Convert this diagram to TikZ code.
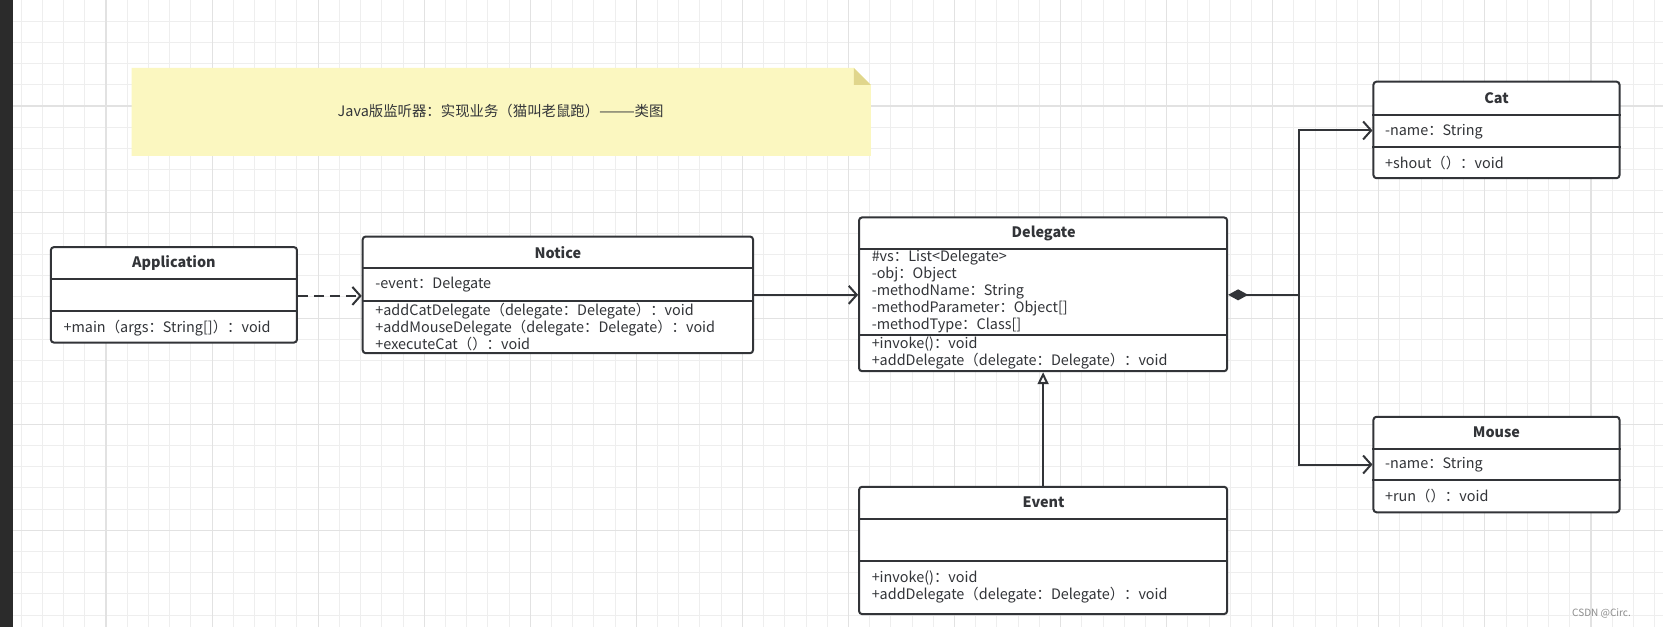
\documentclass[tikz,border=0pt]{standalone}
\usepackage{fontspec}
\setmainfont{Noto Sans CJK SC}
\usetikzlibrary{arrows.meta,fit}
\definecolor{xline}{RGB}{50,52,56}
\definecolor{xnote}{RGB}{251,247,192}
\definecolor{xfold}{RGB}{224,214,140}
\definecolor{xgrid}{RGB}{238,238,238}
\definecolor{xgridm}{RGB}{226,226,226}
\begin{document}
\begin{tikzpicture}[x=0.5303pt,y=-0.5303pt,line width=1pt,
  font=\fontsize{7.2}{8.5}\selectfont\color{xline}]
\tikzset{cls/.style={draw=xline,fill=white,rounded corners=1.5pt,inner sep=0pt}}
\tikzset{ttl/.style={font=\fontsize{7.2}{8.5}\selectfont\bfseries,text=xline}}
\tikzset{mem/.style={anchor=west,align=left,inner sep=0pt,text=xline}}
\tikzset{open/.style={-{Straight Barb[length=4pt,width=9pt]}}}
\useasboundingbox (0,0) rectangle (1568,591);
% grid background
\fill[white] (0,0) rectangle (1568,591);
\foreach \gx in {20,40,...,1560} \draw[xgrid,line width=0.5pt] (\gx,0) -- (\gx,591);
\foreach \gy in {20,40,...,580} \draw[xgrid,line width=0.5pt] (0,\gy) -- (1568,\gy);
\foreach \gx in {100,200,...,1500} \draw[xgridm,line width=0.6pt] (\gx,0) -- (\gx,591);
\foreach \gy in {100,200,...,500} \draw[xgridm,line width=0.6pt] (0,\gy) -- (1568,\gy);
\fill[black!83] (0,0) rectangle (12,591);
% note
\fill[xnote] (124,64) -- (805,64) -- (821,80) -- (821,147) -- (124,147) -- cycle;
\fill[xfold] (805,64) -- (805,80) -- (821,80) -- cycle;
\node (note) at (472,105) {Java版监听器：实现业务（猫叫老鼠跑）———类图};
% Application
\node[cls,fit={(48,233) (280,323)}] (app) {};
\node[ttl] at (164,248) {Application};
\draw[xline] (app.west |- 0,263) -- (app.east |- 0,263);
\draw[xline] (app.west |- 0,293) -- (app.east |- 0,293);
\node[mem] at (59,309) {+main（args：String[]）：void};
% Notice
\node[cls,fit={(342,223) (710,333)}] (notice) {};
\node[ttl] at (526,238) {Notice};
\draw[xline] (notice.west |- 0,253) -- (notice.east |- 0,253);
\draw[xline] (notice.west |- 0,284) -- (notice.east |- 0,284);
\node[mem] at (353,268) {-event：Delegate};
\node[mem] at (353,308) {+addCatDelegate（delegate：Delegate）：void\\+addMouseDelegate（delegate：Delegate）：void\\+executeCat（）：void};
% Delegate
\node[cls,fit={(810,205) (1157,350)}] (dlg) {};
\node[ttl] at (984,220) {Delegate};
\draw[xline] (dlg.west |- 0,235) -- (dlg.east |- 0,235);
\draw[xline] (dlg.west |- 0,316) -- (dlg.east |- 0,316);
\node[mem] at (821,275) {\#vs：List<Delegate>\\-obj：Object\\-methodName：String\\-methodParameter：Object[]\\-methodType：Class[]};
\node[mem] at (821,333) {+invoke()：void\\+addDelegate（delegate：Delegate）：void};
% Event
\node[cls,fit={(810,459) (1157,579)}] (event) {};
\node[ttl] at (984,474) {Event};
\draw[xline] (event.west |- 0,489) -- (event.east |- 0,489);
\draw[xline] (event.west |- 0,529) -- (event.east |- 0,529);
\node[mem] at (821,553) {+invoke()：void\\+addDelegate（delegate：Delegate）：void};
% Cat
\node[cls,fit={(1295,77) (1527,168)}] (cat) {};
\node[ttl] at (1411,93) {Cat};
\draw[xline] (cat.west |- 0,108) -- (cat.east |- 0,108);
\draw[xline] (cat.west |- 0,139) -- (cat.east |- 0,139);
\node[mem] at (1305,124) {-name：String};
\node[mem] at (1305,154) {+shout（）：void};
% Mouse
\node[cls,fit={(1295,393) (1527,483)}] (mouse) {};
\node[ttl] at (1411,408) {Mouse};
\draw[xline] (mouse.west |- 0,423) -- (mouse.east |- 0,423);
\draw[xline] (mouse.west |- 0,453) -- (mouse.east |- 0,453);
\node[mem] at (1305,438) {-name：String};
\node[mem] at (1305,468) {+run（）：void};
% connectors
\coordinate (jn) at (1225,278);
\draw[xline,open,dash pattern=on 5pt off 3pt] (app.east |- 0,279) -- (notice.west |- 0,279);
\draw[xline,open] (notice.east |- 0,278) -- (dlg.west |- 0,278);
\draw[xline,{Diamond[length=10pt,width=5.5pt]}-] (dlg.east |- jn) -- (jn);
\draw[xline,open] (jn) |- (cat.west |- 0,123);
\draw[xline,open] (jn) |- (mouse.west |- 0,438);
\draw[xline,-{Triangle[open,length=6pt,width=5.5pt]}] (event.north) -- (event.north |- dlg.south);
\node[text=black!45,font=\fontsize{5}{6}\selectfont] (mark) at (1510,578) {CSDN @Circ.};
\end{tikzpicture}
\end{document}
